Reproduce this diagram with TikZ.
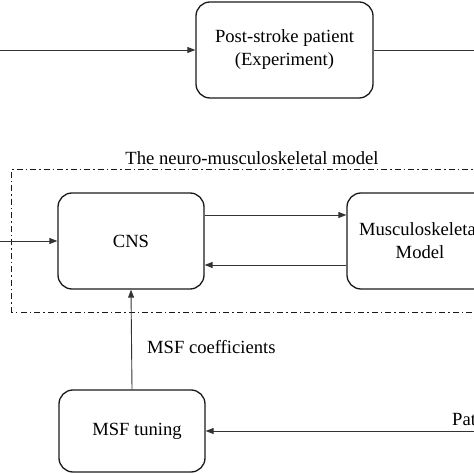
\documentclass[tikz,border=0pt]{standalone}
\usepackage{fontspec}
\setmainfont{Liberation Serif}
\newfontfamily\timesfont{Liberation Serif}
\usetikzlibrary{arrows.meta,positioning,calc}
\definecolor{inkline}{HTML}{1A1A1A}
\definecolor{arrowgrey}{HTML}{333333}

\begin{document}
\begin{tikzpicture}[x=1pt, y=1pt, >={Triangle[length=8pt,width=6pt]},
    blockbox/.style={draw=inkline, line width=1.3pt, rounded corners=14pt, align=center,
      minimum width=146pt, minimum height=96pt, inner sep=0pt, font=\timesfont\fontsize{18.6}{23}\selectfont},
    flow/.style={->, line width=0.9pt, draw=arrowgrey},
    lbl/.style={font=\timesfont\fontsize{18.6}{23}\selectfont, inner sep=0pt}]
  \useasboundingbox (0,0) rectangle (474,474);
  \clip (0,0) rectangle (474,474);

  % Experiment
  \node[blockbox, minimum width=177pt] (patient) at (284.5,424) {Post-stroke patient\\(Experiment)};
  \coordinate (patin) at (-5,424);
  \coordinate (patout) at (480,424);
  \draw[flow] (patin) -- (patient.west);
  \draw[line width=0.9pt, arrowgrey] (patient.east) -- (patout);

  % Neuro-musculoskeletal model
  \draw[line width=1pt, inkline, dash pattern=on 6pt off 3pt on 1.5pt off 3pt] (11,161) rectangle (490,304);
  \node[lbl, anchor=base] (nmlabel) at (252,309) {The neuro-musculoskeletal model};

  \node[blockbox] (cns) at (131,233) {CNS};
  \node[blockbox] (musc) at (420,233) {Musculoskeletal\\Model};
  \coordinate (cnsin) at (-5,233);
  \draw[flow] (cnsin) -- (cns.west);
  \draw[flow] ($(cns.east)+(0,26)$) -- ($(musc.west)+(0,26)$);
  \draw[flow] ($(musc.west)+(0,-24)$) -- ($(cns.east)+(0,-24)$);

  % MSF tuning
  \node[blockbox, minimum height=82pt] (tuning) at (132,43) {\hspace*{10pt}MSF tuning};
  \draw[flow] (tuning.north) -- (cns.south);
  \node[lbl, anchor=west] (coef) at (147,127) {MSF coefficients};
  \coordinate (datain) at (480,43);
  \draw[flow] (datain) -- (tuning.east);
  \node[lbl, anchor=base west] (data) at (452,48) {Patient};
\end{tikzpicture}
\end{document}
